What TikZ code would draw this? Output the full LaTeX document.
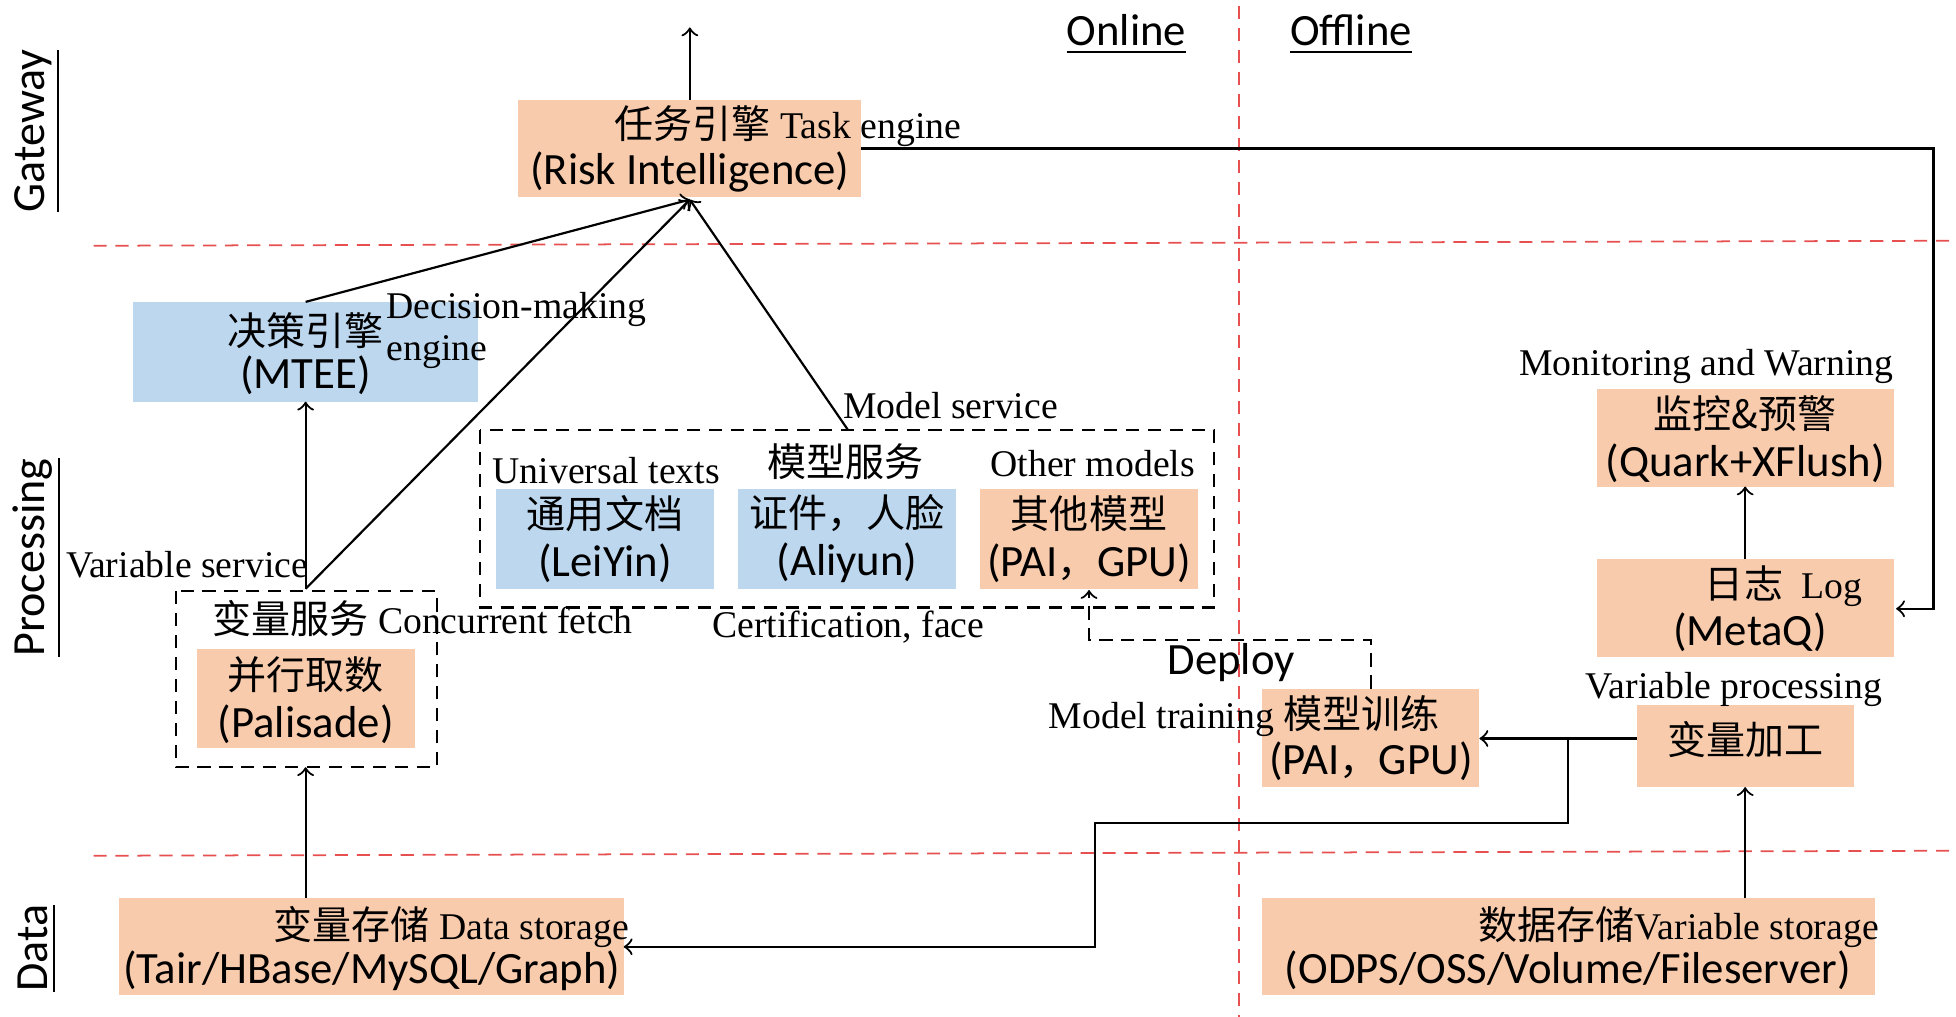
\documentclass[tikz,border=0pt]{standalone}
\usepackage{fontspec}
\setmainfont{Liberation Serif}
\newfontfamily\cjk{Noto Sans CJK SC}
\newfontfamily\bx{Carlito}
\usetikzlibrary{positioning}
\newcommand{\zh}[1]{{\cjk\fontsize{8.9}{11}\selectfont #1}}
\begin{document}
\begin{tikzpicture}[x=0.01cm,y=-0.01cm,line width=0.5pt,>=to]

  \definecolor{peach}{RGB}{248,203,173} % orange boxes
  \definecolor{sky}{RGB}{189,215,238} % blue boxes
  \definecolor{split}{RGB}{230,80,80} % red dashes

  \tikzset{
    box/.style={inner sep=0pt,font=\bx\fontsize{10.2}{11}\selectfont,align=center},
    lbl/.style={inner sep=0pt,font=\fontsize{8.6}{10}\selectfont},
    tier/.style={rotate=90,inner sep=0pt,font=\bx\fontsize{10.5}{12}\selectfont}
  }

  \useasboundingbox (0,0) rectangle (1568,815);

  % Tier separators
  \draw[split,densely dashed,line width=0.4pt] (75,197) -- (1565,193);
  \draw[split,densely dashed,line width=0.4pt] (75,686) -- (1565,682);
  \draw[split,densely dashed,line width=0.4pt] (993,5) -- (993,815);

  % Tier titles
  \node[tier] (gw) at (30,105) {\underline{Gateway}};
  \node[tier] (proc) at (30,447) {\underline{Processing}};
  \node[tier] (data) at (30,760) {\underline{Data}};
  \node[box] (on) at (903,28) {\underline{Online}};
  \node[box] (off) at (1083,28) {\underline{Offline}};

  % Boxes
  \fill[peach] (415,80) rectangle (690,158);
  \fill[sky] (107,242) rectangle (383,322);
  \fill[sky] (398,392) rectangle (572,472);
  \fill[sky] (592,392) rectangle (766,472);
  \fill[peach] (786,392) rectangle (960,472);
  \fill[peach] (158,520) rectangle (333,600);
  \fill[peach] (95,720) rectangle (500,798);
  \fill[peach] (1280,312) rectangle (1518,390);
  \fill[peach] (1280,448) rectangle (1518,527);
  \fill[peach] (1312,565) rectangle (1486,631);
  \fill[peach] (1012,552) rectangle (1186,631);
  \fill[peach] (1012,720) rectangle (1503,798);

  \draw[densely dashed] (385,345) rectangle (973,487);
  \draw[densely dashed] (141,474) rectangle (350,615);

  % Texts
  \node[lbl,anchor=west] (task) at (492,101) {\zh{任务引擎} Task engine};
  \node[box] (risk) at (553,138) {(Risk Intelligence)};
  \node[box] (dec) at (245,265) {\zh{决策引擎}};
  \node[box] (mtee) at (245,301) {(MTEE)};
  \node[lbl,anchor=west] (decl) at (309,248) {Decision-making};
  \node[lbl,anchor=west] (decl2) at (309,282) {engine};
  \node[lbl] (msl) at (762,325) {Model service};
  \node[lbl] (univ) at (486,377) {Universal texts};
  \node[box] (msz) at (678,370) {\zh{模型服务}};
  \node[lbl] (other) at (876,372) {Other models};
  \node[box] (t1) at (485,432) {\zh{通用文档}\\(LeiYin)};
  \node[box] (t2) at (679,432) {\zh{证件，人脸}\\(Aliyun)};
  \node[box] (t3) at (873,432) {\zh{其他模型}\\(PAI\zh{，}GPU)};
  \node[lbl] (cert) at (680,503) {Certification, face};
  \node[lbl] (vsl) at (150,453) {Variable service};
  \node[lbl,anchor=east] (vsz) at (508,496) {\zh{变量服务} Concurrent fetch};
  \node[box] (pal) at (245,561) {\zh{并行取数}\\(Palisade)};
  \node[lbl,anchor=east] (dsz) at (505,743) {\zh{变量存储} Data storage};
  \node[box] (tair) at (298,778) {(Tair/HBase/MySQL/Graph)};
  \node[lbl] (monl) at (1368,294) {Monitoring and Warning};
  \node[box] (mon) at (1399,352) {\zh{监控\&预警}\\(Quark+XFlush)};
  \node[lbl] (logz) at (1430,470) {\zh{日志}\ \ Log};
  \node[box] (metaq) at (1403,507) {(MetaQ)};
  \node[lbl] (vpl) at (1390,553) {Variable processing};
  \node[box] (vp) at (1399,593) {\zh{变量加工}};
  \node[box] (dep) at (987,531) {Deploy};
  \node[lbl,anchor=east] (mtz) at (1155,574) {Model training \zh{模型训练}};
  \node[box] (pai) at (1099,610) {(PAI\zh{，}GPU)};
  \node[lbl,anchor=east] (vstz) at (1507,743) {\zh{数据存储}Variable storage};
  \node[box] (odps) at (1257,778) {(ODPS/OSS/Volume/Fileserver)};

  % Connectors
  \coordinate (top) at (553,22);
  \coordinate (tb) at (553,160);
  \draw[->] (553,80) -- (top);
  \draw[->] (245,242) -- (tb);
  \draw[->] (245,472) -- (tb);
  \draw[->] (680,345) -- (tb);
  \draw[->] (245,472) -- (245,322);
  \draw[->] (245,720) -- (245,615);
  \draw[->] (690,119) -| (1550,488) -- (1520,488);
  \draw[->] (1399,448) -- (1399,390);
  \draw[->] (1399,720) -- (1399,631);
  \draw[->] (1312,592) -- (1186,592);
  \draw[->] (1257,592) -- (1257,660) -- (878,660) -- (878,759) -- (500,759);
  \draw[->,densely dashed] (1099,552) -- (1099,513) -- (873,513) -- (873,473);

\end{tikzpicture}
\end{document}
